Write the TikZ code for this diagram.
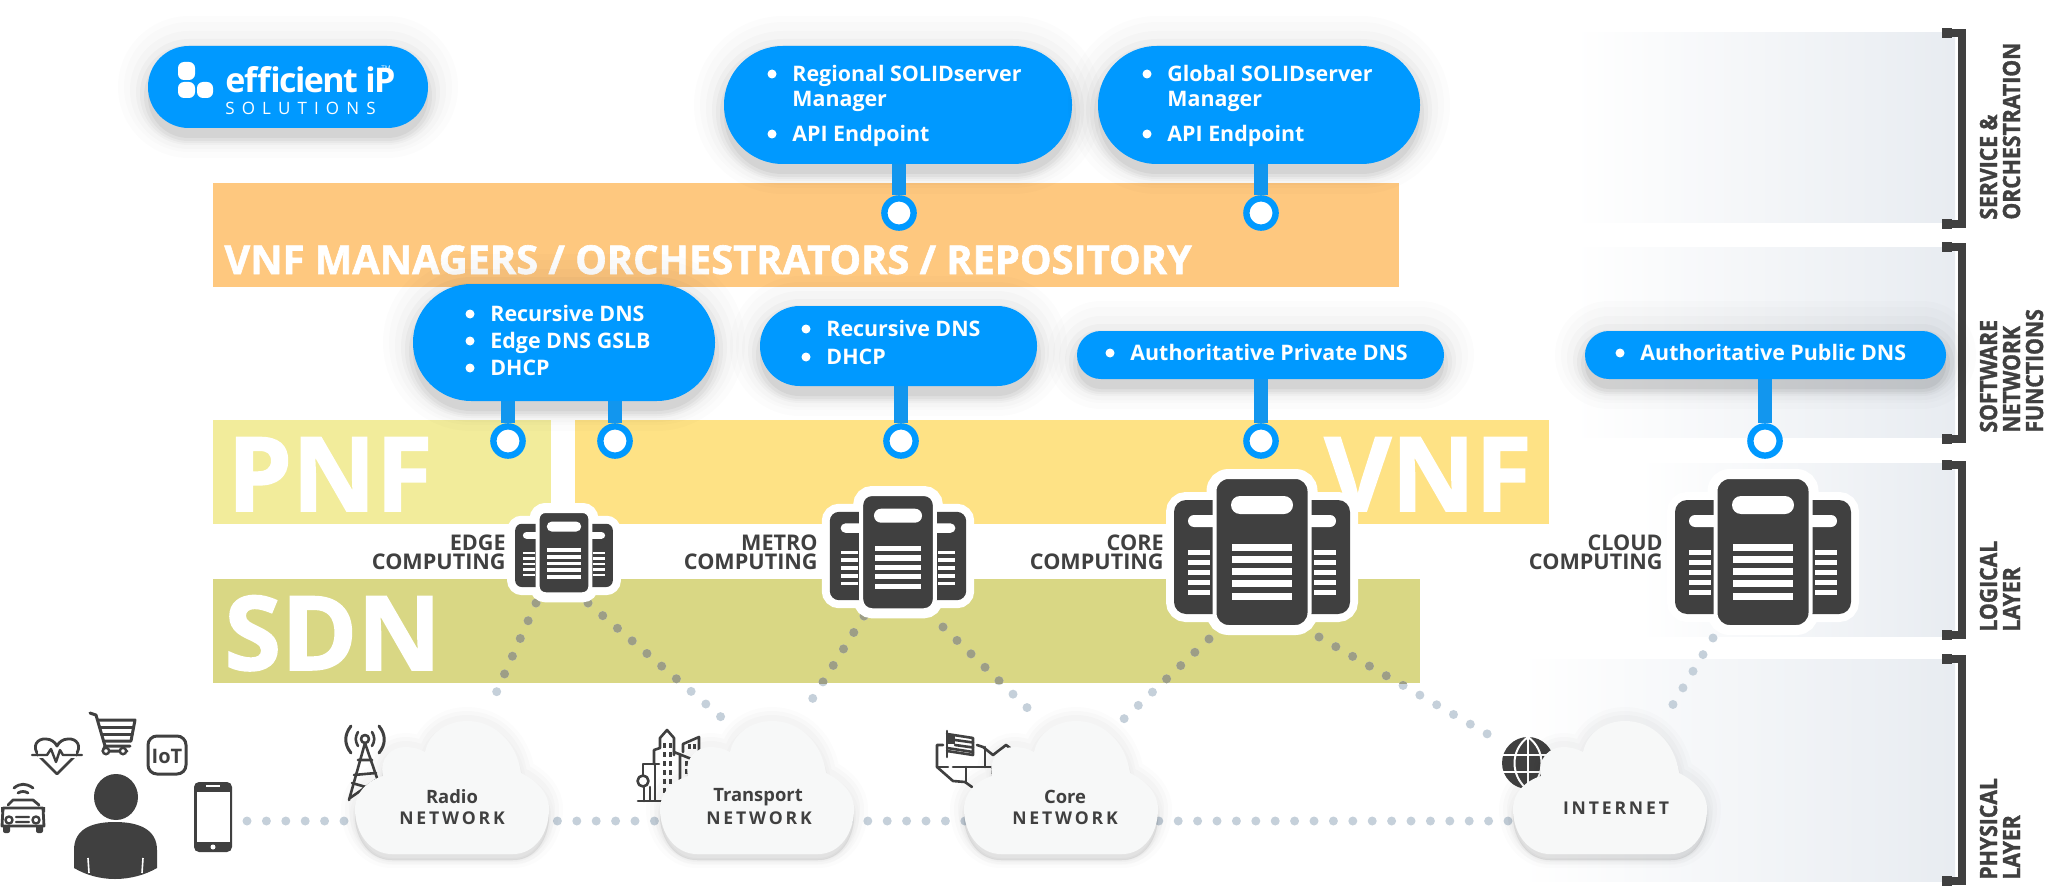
\documentclass[tikz,border=0pt]{standalone}
\usepackage{fontspec}
\setmainfont{Open Sans}
\newfontfamily\heavy[BoldFeatures={FakeBold=1.5}]{Open Sans}
\newfontfamily\spaced[LetterSpace=16]{Open Sans}
\newfontfamily\thinsp[LetterSpace=42]{Open Sans}
\newfontfamily\tight[LetterSpace=-4.5]{Open Sans}
\newcommand\fsz[1]{\fontsize{#1}{#1}\selectfont}
\newcommand\sidet[1]{\scalebox{1}[1.12]{#1}}
\definecolor{dark}{HTML}{404040}
\definecolor{blu}{HTML}{0099FF}
\definecolor{stemc}{HTML}{1296EE}
\definecolor{orangeb}{HTML}{FEC87F}
\definecolor{pnfb}{HTML}{F2EC9B}
\definecolor{vnfb}{HTML}{FEE285}
\definecolor{sdnb}{HTML}{D9D784}
\definecolor{dotl}{HTML}{C5D0DA}
\definecolor{dotd}{HTML}{9D9E86}
\definecolor{panelc}{HTML}{E8ECF1}
\definecolor{cloudc}{HTML}{F7F8F8}
\tikzset{
  pillbox/.style={fill=blu,draw=none,inner sep=0pt},
  ringn/.style={circle,fill=white,draw=blu,line width=3.2pt,minimum size=14.6pt,inner sep=0pt},
  stem/.style={stemc,line width=7pt},
  pilltext/.style={anchor=base west,inner sep=0pt,yshift=-0.8pt,text=white,font=\bfseries\fsz{10.7}},
  serverlabel/.style={anchor=base east,inner sep=0pt,text=dark,font=\bfseries\fsz{10.8}},
  bandtext/.style={inner sep=0pt,text=white,font=\heavy\bfseries\fsz{51.5}},
  sidetext/.style={anchor=base west,rotate=90,inner sep=0pt,text=dark,font=\heavy\bfseries\fsz{10.6}},
  dots/.style={line width=4.5pt,line cap=round,dash pattern=on 0pt off 9.7pt},
  icon/.style={dark,line width=1.3pt,line cap=round,line join=round},
  bracketline/.style={dark,line width=3.6pt,line join=miter},
  cloudl/.style={inner sep=0pt,text=dark,font=\bfseries\fsz{9.2}},
  cloudn/.style={inner sep=0pt,text=dark,font=\spaced\bfseries\fsz{8.8}},
}
\newcommand\pill[5]{%
  \pgfmathsetmacro\pw{(#4-#2)/2}\pgfmathsetmacro\ph{(#5-#3)/2}\pgfmathsetmacro\pr{\ph/2-0.1}%
  \foreach \g/\dy/\o in {30/0/.012,24/0/.012,18/3/.014,12/5/.022,8/7/.03,4/9/.04,0/10/.05}{%
    \pgfmathsetmacro\rg{\pr+\g/2}%
    \fill[black,opacity=\o,rounded corners=\rg pt] (#2-\g,#3-\g+\dy) rectangle (#4+\g,#5+\g+\dy);}%
  \node[pillbox,minimum width=\pw pt,minimum height=\ph pt,rounded corners=\pr pt] (#1) at ({(#2+#4)/2},{(#3+#5)/2}) {};}
\newcommand\blt[4]{% name x y text; bullet is x-20
  \fill[white] (#2-20,#3-6) circle[radius=4.5];
  \node[pilltext] (#1) at (#2,#3) {#4};}
\newcommand\cloudshape{(37,133) .. controls (15,133) and (0,112) .. (0,88) .. controls (0,72) and (12,60) .. (28,55) .. controls (24,38) and (36,26) .. (50,26) .. controls (58,26) and (64,28) .. (70,31) .. controls (74,12) and (92,0) .. (112,0) .. controls (140,0) and (162,22) .. (166,52) .. controls (182,60) and (194,72) .. (194,88) .. controls (194,112) and (180,133) .. (158,133) -- cycle}
\newcommand\cloudicon[2]{%
  \begin{scope}[shift={(#1,#2)}]
    \foreach \w/\o in {14/.012,10/.014,6/.016}{\draw[black,opacity=\o,line width=\w pt,line join=round] \cloudshape;}
    \begin{scope}[yshift=-3pt]\foreach \w/\o in {5/.012,2/.02,0.5/.03}{\draw[black,opacity=\o,fill=black,fill opacity=\o,line width=\w pt,line join=round] \cloudshape;}\end{scope}
    \fill[cloudc] \cloudshape;
  \end{scope}}
\newcommand\server[4]{% name cx top scale
  \pgfmathsetmacro\rc{7*#4}\pgfmathsetmacro\rs{6*#4}\pgfmathsetmacro\rp{4.5*#4}\pgfmathsetmacro\rq{3*#4}%
  \begin{scope}[shift={(#2,#3)},x=#4*0.5pt,y=-#4*0.5pt]
    \coordinate (#1) at (0,75);
    \draw[white,fill=white,line width=8pt,rounded corners=\rc pt] (-47.5,0) rectangle (47.5,150);
    \draw[white,fill=white,line width=8pt,rounded corners=\rs pt] (-88,23) rectangle (88,137);
    \fill[dark,rounded corners=\rs pt] (-88,23) rectangle (88,137);
    \fill[white,rounded corners=\rq pt] (-74,38) rectangle (74,50);
    \foreach \yy in {73,83,93,103,113}{\fill[white] (-74,\yy) rectangle (-52,\yy+5);\fill[white] (52,\yy) rectangle (74,\yy+5);}
    \draw[white,fill=dark,line width=2pt,rounded corners=\rc pt] (-47.5,0) rectangle (47.5,150);
    \fill[white,rounded corners=\rp pt] (-31,19) rectangle (31,37);
    \foreach \yy in {67,79,91,103,116}{\fill[white] (-30,\yy) rectangle (30,\yy+7);}
  \end{scope}}
\newcommand\dotroutes[1]{%
  \draw[dots,#1] (phoneR) -- (netEnd);
  \draw[dots,#1] (eL) -- (eLe);
  \draw[dots,#1] (eR) -- (eRe);
  \draw[dots,#1] (mL) -- (mLe);
  \draw[dots,#1] (mR) -- (mRe);
  \draw[dots,#1] (cL) -- (cLe);
  \draw[dots,#1] (cR) -- (cRe);
  \draw[dots,#1] (kL) -- (kLe);}
\begin{document}
\begin{tikzpicture}[x=0.5pt,y=-0.5pt]
\useasboundingbox (0,0) rectangle (2048,893);
% panels
\shade[left color=white,right color=panelc] (1573,33) rectangle (1955,223);
\shade[left color=white,right color=panelc] (1573,247) rectangle (1955,437);
\shade[left color=white,right color=panelc] (1640,463) rectangle (1955,636);
\shade[left color=white,right color=panelc] (1520,659) rectangle (1955,881);
% brackets
\coordinate (b1a) at (1942,33); \coordinate (b1b) at (1962,33); \coordinate (b1c) at (1962,224); \coordinate (b1d) at (1942,224);
\draw[bracketline] (b1a)--(b1b)--(b1c)--(b1d);
\fill[dark] (1942,28) rectangle (1952,38); \fill[dark] (1942,219) rectangle (1952,229);
\coordinate (b2a) at (1942,247); \coordinate (b2b) at (1962,247); \coordinate (b2c) at (1962,439); \coordinate (b2d) at (1942,439);
\draw[bracketline] (b2a)--(b2b)--(b2c)--(b2d);
\fill[dark] (1942,242) rectangle (1952,252); \fill[dark] (1942,434) rectangle (1952,444);
\coordinate (b3a) at (1942,465); \coordinate (b3b) at (1962,465); \coordinate (b3c) at (1962,635); \coordinate (b3d) at (1942,635);
\draw[bracketline] (b3a)--(b3b)--(b3c)--(b3d);
\fill[dark] (1942,460) rectangle (1952,470); \fill[dark] (1942,630) rectangle (1952,640);
\coordinate (b4a) at (1942,659); \coordinate (b4b) at (1962,659); \coordinate (b4c) at (1962,881); \coordinate (b4d) at (1942,881);
\draw[bracketline] (b4a)--(b4b)--(b4c)--(b4d);
\fill[dark] (1942,654) rectangle (1952,664); \fill[dark] (1942,876) rectangle (1952,886);
% side labels
\node[sidetext] (s1) at (1997,220) {\sidet{SERVICE \&}};
\node[sidetext] (s2) at (2020,220) {\sidet{ORCHESTRATION}};
\node[sidetext] (s3) at (1997,433) {\sidet{SOFTWARE}};
\node[sidetext] (s4) at (2020,433) {\sidet{NETWORK}};
\node[sidetext] (s5) at (2043,433) {\sidet{FUNCTIONS}};
\node[sidetext] (s6) at (1997,632) {\sidet{LOGICAL}};
\node[sidetext] (s7) at (2020,632) {\sidet{LAYER}};
\node[sidetext] (s8) at (1997,880) {\sidet{PHYSICAL}};
\node[sidetext] (s9) at (2020,880) {\sidet{LAYER}};
% bands
\fill[orangeb] (213,183) rectangle (1399,287);
\fill[pnfb] (213,420) rectangle (551,524);
\fill[vnfb] (575,420) rectangle (1549,524);
\fill[sdnb] (213,579) rectangle (1420,683);
\node[inner sep=0pt,text=white,font=\heavy\bfseries\fsz{19.9},anchor=base west] (vm) at (224,274) {VNF MANAGERS / ORCHESTRATORS / REPOSITORY};
\node[bandtext,anchor=base west] (pnf) at (227,511) {PNF};
\node[bandtext,anchor=base east] (vnf) at (1532,511) {VNF};
\node[bandtext,anchor=base west] (sdn) at (224,670) {SDN};
% dotted routes
\coordinate (phoneR) at (247,821); \coordinate (netEnd) at (1510,821);
\coordinate (eL) at (536,603); \coordinate (eLe) at (489,709);
\coordinate (eR) at (588,603); \coordinate (eRe) at (735,729);
\coordinate (mL) at (864,616); \coordinate (mLe) at (803,714);
\coordinate (mR) at (943,627); \coordinate (mRe) at (1041,721);
\coordinate (cL) at (1209,639); \coordinate (cLe) at (1111,731);
\coordinate (cR) at (1319,637); \coordinate (cRe) at (1503,743);
\coordinate (kL) at (1713,638); \coordinate (kLe) at (1663,721);
\dotroutes{dotl}
\begin{scope}
\clip (213,579) rectangle (1420,683);
\dotroutes{dotd}
\end{scope}
% antenna
\draw[icon] (365,739) circle[radius=4];
\draw[icon] (365,743) -- (349,800) (365,743) -- (377,778);
\draw[icon] (358,760) -- (372,760) (354,775) -- (376,773) (350,798) -- (376,780) (352,783) -- (366,787);
\draw[icon] (358,732) .. controls (355,737) and (355,741) .. (358,746);
\draw[icon] (372,732) .. controls (375,737) and (375,741) .. (372,746);
\draw[icon,line width=1.5pt] (351,726) .. controls (344,735) and (344,744) .. (351,753);
\draw[icon,line width=1.5pt] (379,726) .. controls (386,735) and (386,744) .. (379,753);
% city
\draw[icon] (638,801) -- (663,801);
\draw[icon] (643,781) circle[radius=5.5];
\draw[icon] (644,787) -- (644,801);
\draw[icon] (643,770) -- (643,775) (643,770) -- (643,764) -- (659,764) (650,787) -- (650,800) (655,764) -- (655,800);
\draw[icon] (654,764) -- (654,750) -- (660,748) -- (660,738) -- (667,730) -- (674,738) -- (674,755);
\draw[icon] (674,752) -- (694,760) (680,755) -- (680,785);
\draw[icon] (683,752) -- (683,744) -- (699,737) -- (699,755);
\foreach \xx in {664,670}{\foreach \yy in {745,754,763,772,781,790}{\fill[dark] (\xx-1.5,\yy-2.5) rectangle (\xx+1.5,\yy+2.5);}}
\foreach \xx in {686,692}{\foreach \yy in {763,771}{\fill[dark] (\xx-1.5,\yy-2.5) rectangle (\xx+1.5,\yy+2.5);}}
\foreach \xx in {689,694}{\fill[dark] (\xx-1.5,744) rectangle (\xx+1.5,749);}
% ship and flag
\draw[icon] (947,731) -- (947,757);
\draw[icon] (947,734) -- (973,738) -- (973,755) -- (947,751);
\draw[icon] (955,740) -- (973,742.5) (955,745) -- (973,747.5) (947,748) -- (973,752);
\fill[dark] (947,734) rectangle (955,744);
\draw[icon] (943,745) -- (937,745) -- (937,767) -- (953,781) -- (965,782) -- (972,787);
\draw[icon] (937,767) -- (948,767) (953,767) -- (994,767) (966,767) -- (966,782) (985,747) -- (985,767) (992,767) -- (992,773);
\draw[icon] (977,745) -- (983,747) -- (993,755) -- (1006,745) -- (1010,748);
% globe
\fill[dark] (1528,763) circle[radius=26];
\draw[white,line width=1pt] (1528,737) -- (1528,790) (1502,755) -- (1554,755) (1502,772) -- (1554,772);
\draw[white,line width=1pt] (1528,737) .. controls (1510,750) and (1510,776) .. (1528,790) (1528,737) .. controls (1546,750) and (1546,776) .. (1528,790);
% clouds
\cloudicon{355}{721}\cloudicon{660}{721}\cloudicon{964}{721}\cloudicon{1513}{721}
\node[cloudl] (radio) at (452,797) {Radio};
\node[cloudn] (radion) at (452,818) {NETWORK};
\node[cloudl] (trans) at (758,797) {Transport};
\node[cloudn] (transn) at (759,818) {NETWORK};
\node[cloudl] (core) at (1065,797) {Core};
\node[cloudn] (coren) at (1065,818) {NETWORK};
\node[cloudn] (inet) at (1616,808) {INTERNET};
% person
\draw[white,line width=2pt] (116,797) ellipse[x radius=22,y radius=23];
\fill[dark] (116,797) ellipse[x radius=22,y radius=23];
\fill[dark] (115,822) .. controls (90,822) and (74,830) .. (74,850) -- (74,868) .. controls (86,875) and (100,879) .. (115,879) .. controls (130,879) and (145,875) .. (157,868) -- (157,850) .. controls (157,830) and (140,822) .. (115,822) -- cycle;
\draw[white,line width=0.8pt] (88,858) -- (89,873) (143,858) -- (142,873);
% phone
\fill[dark,rounded corners=2.5pt] (194,782) rectangle (232,852);
\fill[white] (197,792) rectangle (230,842);
\fill[white] (213,847) circle[radius=2.5];
\draw[white,line width=0.6pt] (206,786) -- (220,786);
% iot
\draw[icon,line width=1.5pt,rounded corners=4.5pt] (148,736) rectangle (186,774);
\node[inner sep=0pt,text=dark,font=\bfseries\fsz{10}] (iot) at (167,756) {IoT};
% cart
\draw[icon,line width=1.5pt] (90,713) -- (96,715) -- (105,746) -- (130,746) (105,746) -- (103,751) -- (127,751);
\draw[icon,line width=1.5pt] (98,720) -- (135,720) -- (131,741) -- (104,741);
\draw[icon,line width=1.5pt] (100,727) -- (133,727) (102,734) -- (132,734);
\fill[white,draw=dark,line width=1.2pt] (106,751) circle[radius=3.2] (123,751) circle[radius=3.2];
% heart
\draw[icon,line width=1.4pt] (57,774) -- (40,757) .. controls (30,746) and (38,738) .. (46,739) .. controls (51,739) and (55,742) .. (57,746) .. controls (59,742) and (63,739) .. (68,739) .. controls (76,738) and (84,746) .. (74,757) -- cycle;
\fill[white] (38,752) rectangle (76,758);
\draw[icon,line width=1.2pt] (32,755) -- (47,755) -- (51,749) -- (56,762) -- (60,750) -- (63,755) -- (82,755);
% car
\draw[icon,line width=1.4pt] (14,788) .. controls (20,783) and (26,783) .. (33,788) (18,793) .. controls (21,791) and (25,791) .. (28,793);
\draw[icon,line width=1.4pt] (8,805) -- (13,800) -- (33,800) -- (39,805) (3,808) -- (43,808) -- (44,826) -- (2,826) -- cycle;
\fill[dark] (1,807) rectangle (4,812) (42,807) rectangle (45,812);
\fill[dark,rounded corners=1pt] (3,825) rectangle (10,833) (36,825) rectangle (43,833);
\draw[icon,line width=1.2pt] (9,820) circle[radius=3.5] (36,820) circle[radius=3.5] (16,817) -- (29,817) (16,822) -- (29,822);
% stems, rings, pills
\node[ringn] (rReg) at (899,213) {};
\node[ringn] (rGlo) at (1261,213) {};
\node[ringn] (rEa) at (508,441) {};
\node[ringn] (rEb) at (615,441) {};
\node[ringn] (rMe) at (901,441) {};
\node[ringn] (rPr) at (1261,441) {};
\node[ringn] (rPu) at (1765,441) {};
\pill{logo}{148}{46}{428}{128}
\pill{reg}{724}{46}{1072}{164}
\pill{glo}{1098}{46}{1420}{164}
\pill{edge}{413}{284}{715}{401}
\pill{metro}{760}{306}{1037}{386}
\pill{priv}{1077}{331}{1444}{379}
\pill{pub}{1585}{331}{1946}{379}
\draw[stem] (rReg.north |- reg.south) -- (rReg.north);
\draw[stem] (rGlo.north |- glo.south) -- (rGlo.north);
\draw[stem] (rEa.north |- edge.south) -- (rEa.north);
\draw[stem] (rEb.north |- edge.south) -- (rEb.north);
\draw[stem] (rMe.north |- metro.south) -- (rMe.north);
\draw[stem] (rPr.north |- priv.south) -- (rPr.north);
\draw[stem] (rPu.north |- pub.south) -- (rPu.north);
% logo contents
\fill[white,rounded corners=3pt] (178,62) rectangle (195,80);
\fill[white,rounded corners=3pt] (178,82) rectangle (195,98);
\fill[white,rounded corners=3pt] (197,82) rectangle (213,98);
\node[anchor=base west,inner sep=0pt,text=white,font=\tight\bfseries\fsz{17}] (lg1) at (225,93) {efficient iP};
\node[anchor=base west,inner sep=0pt,text=white,font=\fsz{3.2}] (lg2) at (381,71) {TM};
\node[anchor=base west,inner sep=0pt,text=white,font=\thinsp\fsz{8.5}] (lg3) at (225,115) {SOLUTIONS};
% pill texts
\blt{t1}{792}{80}{Regional SOLIDserver}
\node[pilltext] (t2) at (792,105) {Manager};
\blt{t3}{792}{140}{API Endpoint}
\blt{t4}{1167}{80}{Global SOLIDserver}
\node[pilltext] (t5) at (1167,105) {Manager};
\blt{t6}{1167}{140}{API Endpoint}
\blt{t7}{490}{320}{Recursive DNS}
\blt{t8}{490}{347}{Edge DNS GSLB}
\blt{t9}{490}{374}{DHCP}
\blt{t10}{826}{335}{Recursive DNS}
\blt{t11}{826}{363}{DHCP}
\blt{t12}{1130}{359}{Authoritative Private DNS}
\blt{t13}{1640}{359}{Authoritative Public DNS}
% servers
\server{srvE}{564}{511}{0.555}
\server{srvM}{898}{494}{0.775}
\server{srvC}{1262}{477}{1}
\server{srvK}{1763}{477}{1}
\node[serverlabel] (l1) at (506,550) {EDGE};
\node[serverlabel] (l2) at (506,569) {COMPUTING};
\node[serverlabel] (l3) at (818,550) {METRO};
\node[serverlabel] (l4) at (818,569) {COMPUTING};
\node[serverlabel] (l5) at (1164,550) {CORE};
\node[serverlabel] (l6) at (1164,569) {COMPUTING};
\node[serverlabel] (l7) at (1663,550) {CLOUD};
\node[serverlabel] (l8) at (1663,569) {COMPUTING};
\end{tikzpicture}
\end{document}
